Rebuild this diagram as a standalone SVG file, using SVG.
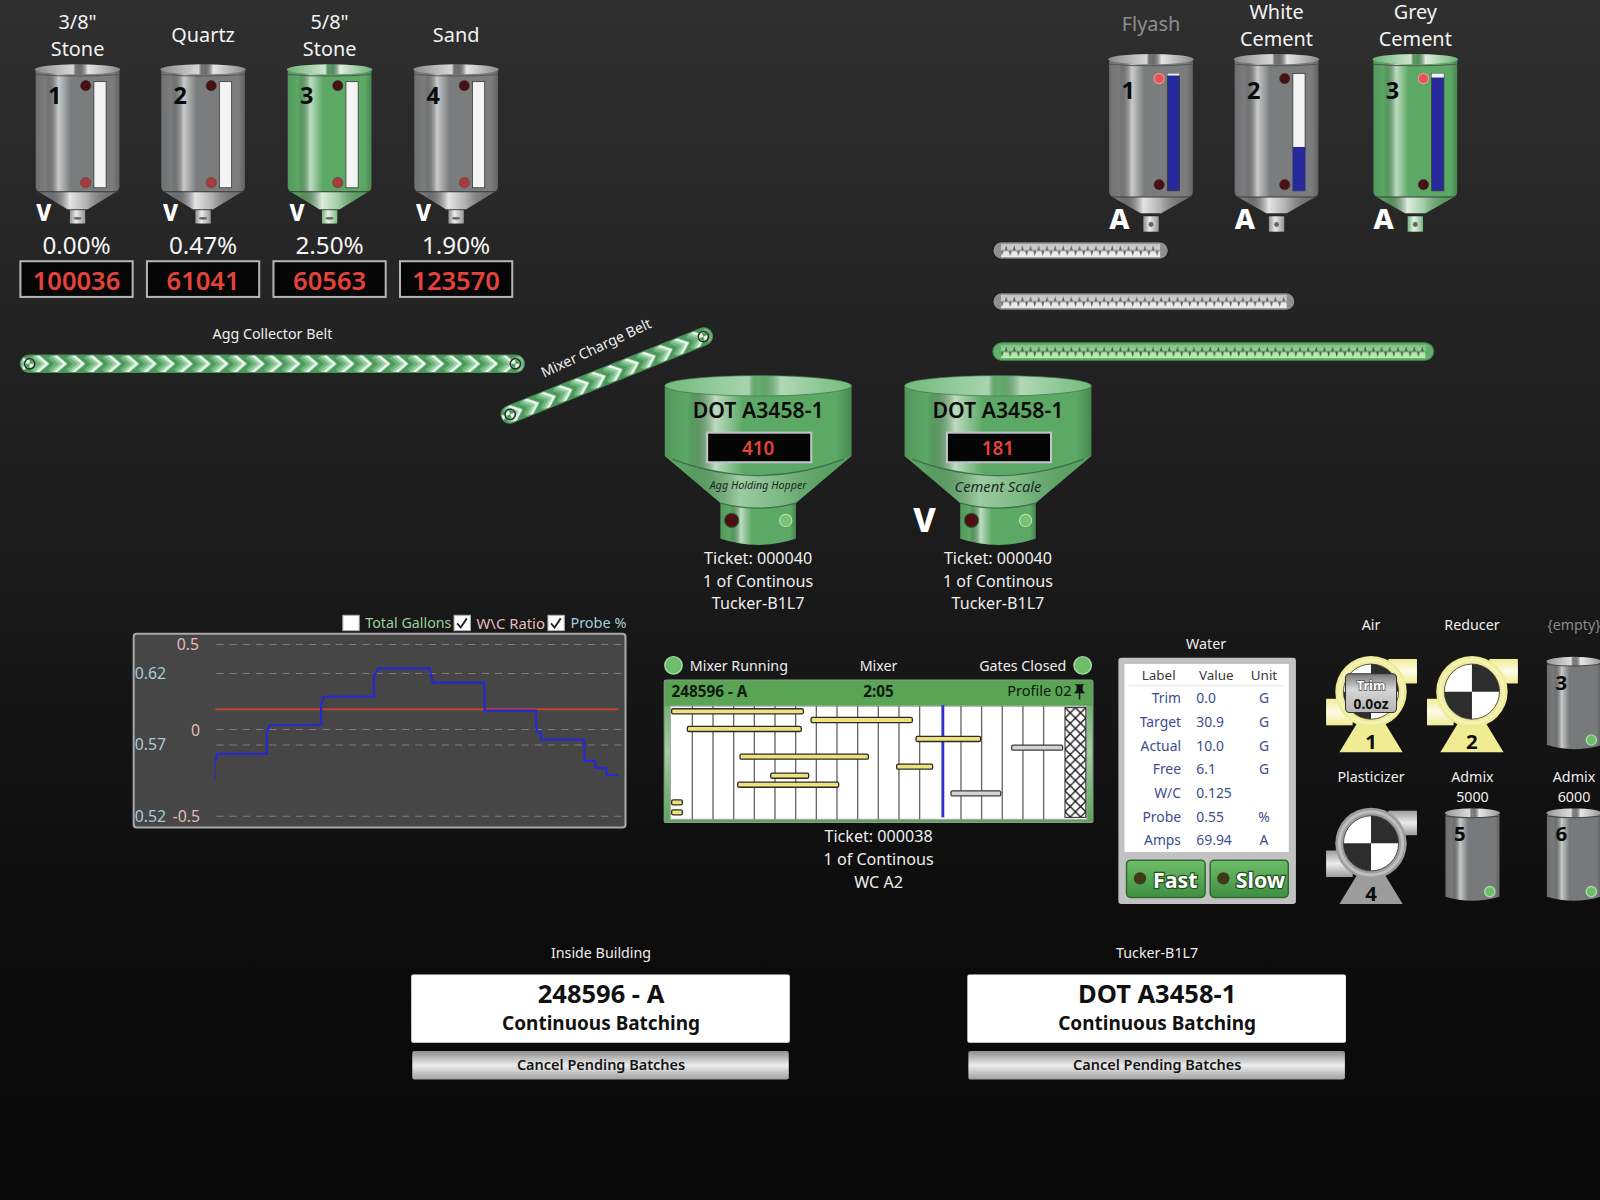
<svg xmlns="http://www.w3.org/2000/svg" width="1600" height="1200" viewBox="0 0 1600 1200">
<style>
text{font-family:"Noto Sans","Open Sans","DejaVu Sans",sans-serif;fill:#fff;dominant-baseline:central}
.m{text-anchor:middle}.e{text-anchor:end}
.lb{font-size:19.5px;fill:#f2f2f2}
.sm{font-size:14px;fill:#eee}
.tk{font-size:15.8px;fill:#eee}
.pct{font-size:23.8px;fill:#f5f5f5}
.disp{fill:#060606;stroke:#b4b4b4;stroke-width:2}
.red{fill:#e5433a;font-weight:600;font-size:25px}
.num{fill:#0a0a0a;font-weight:700;font-size:23px}
.big{font-weight:800;fill:#fff;font-size:22px}
.dk{fill:#4b1014;stroke:#2a2a2a;stroke-width:.5}
.rd{fill:#a53b3b;stroke:#7a4a4a;stroke-width:1}
.on{fill:#e65454;stroke:#f09a9a;stroke-width:1}
.gd{fill:#6dbd6a;stroke:#a7dba4;stroke-width:1.4}
.grid{stroke:#7e7e7e;stroke-width:1;stroke-dasharray:7 6;fill:none}
.pk{fill:#e2bcbc;font-size:15.5px}.bl{fill:#a8ccd6;font-size:15.5px}
.bar{stroke:#2b2b2b;stroke-width:1.3;fill:#efe27c}.bg{stroke:#3c3c3c;stroke-width:1.3;fill:#d4d4d4}
.thd{font-size:13.2px;fill:#3a3a3a}.tl{font-size:13.6px;fill:#3b4d8e}
.btn{font-weight:700;font-size:21px;stroke:#24521f;stroke-width:2.4;paint-order:stroke}
.cb{fill:#fff;stroke:#b0b0b0;stroke-width:1}
.pn{font-weight:700;font-size:20px;fill:#0d0d0d}
.can{font-weight:600;font-size:14.2px;fill:#151515}
.bt1{font-weight:700;font-size:25px;fill:#111}.bt2{font-weight:700;font-size:18.6px;fill:#111}
.hd{font-size:20.8px;font-weight:600;fill:#0b0b0b}
.rl{fill:#e6f4e8;stroke:#2c2c2c;stroke-width:1.5}
.rq{fill:#4f9c5e}
</style>
<defs>
<linearGradient id="bgG" x1="0" y1="0" x2="0" y2="1"><stop offset="0" stop-color="#2f2f2f"/><stop offset=".45" stop-color="#1b1b1b"/><stop offset=".78" stop-color="#0c0c0c"/><stop offset="1" stop-color="#090909"/></linearGradient>
<linearGradient id="sh"><stop offset="0" stop-color="#000" stop-opacity=".1"/><stop offset=".12" stop-color="#000" stop-opacity="0"/><stop offset=".27" stop-color="#fff" stop-opacity=".6"/><stop offset=".42" stop-color="#fff" stop-opacity="0"/><stop offset=".92" stop-color="#000" stop-opacity="0"/><stop offset="1" stop-color="#000" stop-opacity=".2"/></linearGradient>
<linearGradient id="cone"><stop offset=".1" stop-color="#000" stop-opacity=".05"/><stop offset=".4" stop-color="#fff" stop-opacity=".8"/><stop offset=".62" stop-color="#fff" stop-opacity=".4"/><stop offset="1" stop-color="#000" stop-opacity=".05"/></linearGradient>
<linearGradient id="noz"><stop offset="0" stop-color="#fff" stop-opacity=".15"/><stop offset=".4" stop-color="#fff" stop-opacity=".85"/><stop offset="1" stop-color="#fff" stop-opacity=".2"/></linearGradient>
<linearGradient id="rim"><stop offset="0" stop-color="#fff" stop-opacity=".1"/><stop offset=".45" stop-color="#fff" stop-opacity=".7"/><stop offset=".5" stop-color="#000" stop-opacity=".05"/><stop offset=".62" stop-color="#fff" stop-opacity=".8"/><stop offset="1" stop-color="#fff" stop-opacity=".1"/></linearGradient>
<linearGradient id="vs" x1="0" y1="0" x2="0" y2="1"><stop offset="0" stop-color="#fff" stop-opacity="0"/><stop offset=".5" stop-color="#fff" stop-opacity=".8"/><stop offset="1" stop-color="#fff" stop-opacity="0"/></linearGradient>
<linearGradient id="btnG" x1="0" y1="0" x2="0" y2="1"><stop offset="0" stop-color="#6dbd68"/><stop offset="1" stop-color="#3f8f42"/></linearGradient>
<linearGradient id="canG" x1="0" y1="0" x2="0" y2="1"><stop offset="0" stop-color="#8e8e8e"/><stop offset=".5" stop-color="#ececec"/><stop offset="1" stop-color="#a0a0a0"/></linearGradient>
<linearGradient id="trimG" x1="0" y1="0" x2="0" y2="1"><stop offset="0" stop-color="#777"/><stop offset=".4" stop-color="#d6d6d6"/><stop offset="1" stop-color="#b4b4b4"/></linearGradient>
<linearGradient id="panelG" x1="0" y1="0" x2="0" y2="1"><stop offset="0" stop-color="#5aa456"/><stop offset=".5" stop-color="#9fcfa0"/><stop offset="1" stop-color="#5aa456"/></linearGradient>
<linearGradient id="scrG" x1="0" y1="0" x2="0" y2="1"><stop offset="0" stop-color="#c4c4c4"/><stop offset=".5" stop-color="#cfcfcf"/><stop offset=".55" stop-color="#e6e6e6"/><stop offset="1" stop-color="#ececec"/></linearGradient>
<linearGradient id="scrH" x1="0" y1="0" x2="0" y2="1"><stop offset="0" stop-color="#7fc088"/><stop offset=".5" stop-color="#9dd19a"/><stop offset=".55" stop-color="#b8e4aa"/><stop offset="1" stop-color="#bfe8b0"/></linearGradient>
<pattern id="beltP" width="17.6" height="17" patternUnits="userSpaceOnUse" patternTransform="translate(0,-8.5)">
<rect width="17.6" height="17" fill="#4c995b"/>
<g fill="none">
<path d="M-3 0L7 8.500L-3 17M14.600 0L24.600 8.500L14.600 17" stroke="#6fb47c" stroke-width="8"/>
<path d="M-1 0L9 8.500L-1 17M16.600 0L26.600 8.500L16.600 17" stroke="#97d0a3" stroke-width="5"/>
<path d="M1 0L11 8.500L1 17M18.600 0L28.600 8.500L18.600 17" stroke="#eef9f0" stroke-width="2.400"/>
</g>
</pattern>
<pattern id="screwP" width="8" height="17" patternUnits="userSpaceOnUse" patternTransform="translate(0,-8.5)">
<path d="M.5 8.500L2 3.500L3.500 8.500ZM4.500 8.500L6 14L7.500 8.500Z" fill="#5c5c5c"/><rect y="8" width="8" height="1" fill="#8a8a8a"/>
</pattern>
<pattern id="screwQ" width="8" height="17" patternUnits="userSpaceOnUse" patternTransform="translate(0,-8.5)">
<path d="M.5 8.500L2 3.500L3.500 8.500ZM4.500 8.500L6 14L7.500 8.500Z" fill="#2f6a42"/><rect y="8" width="8" height="1" fill="#4d8a5c"/>
</pattern>
<pattern id="hatch" width="10.2" height="10.2" patternUnits="userSpaceOnUse" patternTransform="translate(1043.7,693.5)">
<rect width="10.2" height="10.2" fill="#fff"/>
<path d="M0 0L10.2 10.2M10.2 0L0 10.2" stroke="#111" stroke-width="1.3"/>
</pattern>
<g id="roller"><circle r="5" class="rl"/><path d="M0 -4.200A4.200 4.200 0 0 1 4.200 0H0ZM0 4.200A4.200 4.200 0 0 1 -4.200 0H0Z" class="rq"/></g>
<g id="siloA">
<path d="M-38 125L-10 142H10L38 125Z"/><path d="M-38 125L-10 142H10L38 125Z" fill="url(#cone)"/>
<rect x="-7.500" y="143" width="15" height="13"/><rect x="-7.500" y="143" width="15" height="13" fill="url(#noz)"/>
<ellipse cx="0" cy="151" rx="4" ry="1.400" fill="#666"/>
<path d="M-41 6H41V120Q41 124 37 125H-37Q-41 124 -41 120Z"/><path d="M-41 6H41V120Q41 124 37 125H-37Q-41 124 -41 120Z" fill="url(#sh)"/>
<path d="M-40 125H40" stroke="#3a3a3a" stroke-width="1"/>
<ellipse cx="0" cy="5" rx="42" ry="5"/><ellipse cx="0" cy="5" rx="42" ry="5" fill="url(#rim)"/>
<path d="M-41 10Q0 13 41 10" stroke="#555" stroke-width="1" fill="none"/>
</g>
<g id="siloC">
<path d="M-38 140L-10 156H10L38 140Z"/><path d="M-38 140L-10 156H10L38 140Z" fill="url(#cone)"/>
<rect x="-7.500" y="159" width="15" height="15"/><rect x="-7.500" y="159" width="15" height="15" fill="url(#noz)"/>
<circle cx="0" cy="167" r="2.400" fill="#666"/>
<path d="M-41 6H41V135Q41 139 37 140H-37Q-41 139 -41 135Z"/><path d="M-41 6H41V135Q41 139 37 140H-37Q-41 139 -41 135Z" fill="url(#sh)"/>
<path d="M-40 140H40" stroke="#3a3a3a" stroke-width="1"/>
<ellipse cx="0" cy="5" rx="42" ry="5"/><ellipse cx="0" cy="5" rx="42" ry="5" fill="url(#rim)"/>
<path d="M-41 10Q0 13 41 10" stroke="#555" stroke-width="1" fill="none"/>
</g>
<g id="scale">
<path d="M-37 113H37V150Q0 162 -37 150Z" fill="#5ca865"/><path d="M-37 113H37V150Q0 162 -37 150Z" fill="url(#sh)"/>
<path d="M-91.500 69L-37 115Q0 125 37 115L91.500 69Z" fill="#5ca865"/><path d="M-91.500 69L-37 115Q0 125 37 115L91.500 69Z" fill="url(#cone)" opacity=".5"/>
<path d="M-37 115Q0 125 37 115" fill="none" stroke="#3f6f47" stroke-width="1.300"/>
<path d="M-91.500 0V69Q0 105 91.500 69V0Z" fill="#5ca865"/><path d="M-91.500 0V69Q0 105 91.500 69V0Z" fill="url(#sh)"/>
<path d="M-84 72Q0 104 84 72" fill="none" stroke="#3f6f47" stroke-width="1.300"/>
<ellipse cx="0" cy="0" rx="91.500" ry="10" fill="#6ab673"/><ellipse cx="0" cy="0" rx="91.500" ry="10" fill="url(#rim)" opacity=".6" stroke="#3f6f47"/>
<circle cx="-26" cy="132" r="7" fill="#4b1014" stroke="#2f5f37"/><circle cx="27" cy="132" r="6" fill="#77c274" stroke="#b9e6b6"/>
</g>
<g id="pump">
<rect x="17" y="-32" width="28" height="24"/><rect x="17" y="-32" width="28" height="24" fill="url(#vs)"/>
<rect x="-44" y="7" width="26" height="26"/><rect x="-44" y="7" width="26" height="26" fill="url(#vs)"/>
<path d="M-12.500 29H12.500L31 59.500H-31Z"/>
<circle r="35"/><circle r="31" fill="none" stroke="#fff" stroke-opacity=".35" stroke-width="3"/>
<circle r="27" fill="#fff"/><path d="M0 -27A27 27 0 0 1 27 0H0ZM0 27A27 27 0 0 1 -27 0H0Z" fill="#2d2d2d"/>
<circle r="27" fill="none" stroke="#333" stroke-width=".8"/>
</g>
<g id="tank">
<path d="M-26.500 6H26.500V86Q0 94 -26.500 86Z" fill="#77797a"/><path d="M-26.500 6H26.500V86Q0 94 -26.500 86Z" fill="url(#sh)"/>
<ellipse cx="0" cy="4" rx="27" ry="4.500" fill="#8b8b8b"/><ellipse cx="0" cy="4" rx="27" ry="4.500" fill="url(#rim)"/>
<path d="M-26.500 7Q0 10 26.500 7" stroke="#4b4b4b" stroke-width="1" fill="none"/>
<circle cx="17" cy="81" r="5" class="gd"/>
</g>
</defs>
<rect width="1600" height="1200" fill="url(#bgG)"/>
<g transform="scale(1.020408)">
<g id="connectors">
<g id="agg-collector-belt" transform="translate(0,356.500)">
<rect x="20" y="-8.500" width="494" height="17" rx="8.500" fill="url(#beltP)" stroke="#4b8f58" stroke-width="1"/>
<use href="#roller" x="29"/><use href="#roller" x="505"/>
</g>
<g id="mixer-charge-belt" transform="translate(500,406) rotate(-21.900)">
<rect x="-9" y="-8.500" width="222" height="17" rx="8.500" fill="url(#beltP)" stroke="#4b8f58" stroke-width="1"/>
<use href="#roller"/><use href="#roller" x="204"/>
</g>
<g id="screw-1" transform="translate(0,245.500)">
<rect x="973" y="-8.500" width="172" height="17" rx="8.500" fill="#8f8f8f" stroke="#1a1a1a"/><rect x="981" y="-6.500" width="156" height="13" fill="url(#scrG)"/><rect x="981" y="-6.500" width="156" height="13" fill="url(#screwP)"/>
</g>
<g id="screw-2" transform="translate(0,295.500)">
<rect x="973" y="-8.500" width="296" height="17" rx="8.500" fill="#8f8f8f" stroke="#1a1a1a"/><rect x="981" y="-6.500" width="280" height="13" fill="url(#scrG)"/><rect x="981" y="-6.500" width="280" height="13" fill="url(#screwP)"/>
</g>
<g id="screw-3" transform="translate(0,344.500)">
<rect x="973" y="-8.500" width="432" height="17" rx="8.500" fill="#62b06c" stroke="#3f8a4c"/><rect x="981" y="-6.500" width="416" height="13" fill="url(#scrH)"/><rect x="981" y="-6.500" width="416" height="13" fill="url(#screwQ)"/>
</g>
</g>
<text class="sm m" x="267" y="326.500">Agg Collector Belt</text>
<text class="sm m" transform="translate(584,340.500) rotate(-25)">Mixer Charge Belt</text>

<g id="agg-1" transform="translate(76,0)">
<text class="lb m" y="21">3/8"</text><text class="lb m" y="48">Stone</text>
<g transform="translate(0,63)"><use href="#siloA" fill="#7b7c7d"/><rect x="16" y="17" width="12" height="104" fill="#f4f4f4" stroke="#3a3a3a" stroke-width=".8"/><circle cx="8" cy="21" r="5" class="dk"/><circle cx="8" cy="116" r="5" class="rd"/><text class="num" x="-29" y="30.500">1</text></g>
<text class="big m" x="-33" y="208">V</text><text class="pct m" x="-1" y="239.500">0.00%</text>
<rect class="disp" x="-56" y="256" width="110" height="35"/><text class="red m" x="-1" y="274">100036</text>
</g>
<g id="agg-2" transform="translate(199,0)">
<text class="lb m" y="34">Quartz</text>
<g transform="translate(0,63)"><use href="#siloA" fill="#7b7c7d"/><rect x="16" y="17" width="12" height="104" fill="#f4f4f4" stroke="#3a3a3a" stroke-width=".8"/><circle cx="8" cy="21" r="5" class="dk"/><circle cx="8" cy="116" r="5" class="rd"/><text class="num" x="-29" y="30.500">2</text></g>
<text class="big m" x="-32" y="208">V</text><text class="pct m" y="239.500">0.47%</text>
<rect class="disp" x="-55" y="256" width="110" height="35"/><text class="red m" y="274">61041</text>
</g>
<g id="agg-3" transform="translate(323,0)">
<text class="lb m" y="21">5/8"</text><text class="lb m" y="48">Stone</text>
<g transform="translate(0,63)"><use href="#siloA" fill="#5ca865"/><rect x="16" y="17" width="12" height="104" fill="#f4f4f4" stroke="#3a3a3a" stroke-width=".8"/><circle cx="8" cy="21" r="5" class="dk"/><circle cx="8" cy="116" r="5" class="rd"/><text class="num" x="-29" y="30.500">3</text></g>
<text class="big m" x="-32" y="208">V</text><text class="pct m" y="239.500">2.50%</text>
<rect class="disp" x="-55" y="256" width="110" height="35"/><text class="red m" y="274">60563</text>
</g>
<g id="agg-4" transform="translate(447,0)">
<text class="lb m" y="34">Sand</text>
<g transform="translate(0,63)"><use href="#siloA" fill="#7b7c7d"/><rect x="16" y="17" width="12" height="104" fill="#f4f4f4" stroke="#3a3a3a" stroke-width=".8"/><circle cx="8" cy="21" r="5" class="dk"/><circle cx="8" cy="116" r="5" class="rd"/><text class="num" x="-29" y="30.500">4</text></g>
<text class="big m" x="-32" y="208">V</text><text class="pct m" y="239.500">1.90%</text>
<rect class="disp" x="-55" y="256" width="110" height="35"/><text class="red m" y="274">123570</text>
</g>

<g id="cement-1" transform="translate(1128,0)">
<text class="lb m" y="23" style="fill:#8f8f8f">Flyash</text>
<g transform="translate(0,53)"><use href="#siloC" fill="#7b7c7d"/><rect x="16" y="19" width="12" height="115" fill="#26299c" stroke="#3a3a3a" stroke-width=".8"/><rect x="16" y="19" width="12" height="2" fill="#f4f4f4"/><circle cx="8" cy="24" r="5" class="on"/><circle cx="8" cy="128" r="5" class="dk"/><text class="num" x="-29" y="35.500">1</text></g>
<text class="big m" x="-31" y="213" style="font-size:28px">A</text>
</g>
<g id="cement-2" transform="translate(1251,0)">
<text class="lb m" y="11">White</text><text class="lb m" y="38">Cement</text>
<g transform="translate(0,53)"><use href="#siloC" fill="#7b7c7d"/><rect x="16" y="19" width="12" height="115" fill="#f4f4f4" stroke="#3a3a3a" stroke-width=".8"/><rect x="16" y="91" width="12" height="43" fill="#26299c"/><circle cx="8" cy="24" r="5" class="dk"/><circle cx="8" cy="128" r="5" class="dk"/><text class="num" x="-29" y="35.500">2</text></g>
<text class="big m" x="-31" y="213" style="font-size:28px">A</text>
</g>
<g id="cement-3" transform="translate(1387,0)">
<text class="lb m" y="11">Grey</text><text class="lb m" y="38">Cement</text>
<g transform="translate(0,53)"><use href="#siloC" fill="#5ca865"/><rect x="16" y="19" width="12" height="115" fill="#26299c" stroke="#3a3a3a" stroke-width=".8"/><rect x="16" y="19" width="12" height="4" fill="#f4f4f4"/><circle cx="8" cy="24" r="5" class="on"/><circle cx="8" cy="128" r="5" class="dk"/><text class="num" x="-29" y="35.500">3</text></g>
<text class="big m" x="-31" y="213" style="font-size:28px">A</text>
</g>

<g id="agg-holding-hopper" transform="translate(743,378)">
<use href="#scale"/>
<text class="hd m" y="23.500">DOT A3458-1</text>
<rect x="-50" y="46" width="102" height="29" fill="#050505" stroke="#c4c4cc" stroke-width="2"/><text class="red m" y="61" style="font-size:18.500px">410</text>
<text class="m" y="97" style="font-size:10.500px;font-style:italic;fill:#1c2a20">Agg Holding Hopper</text>
<text class="tk m" y="169">Ticket: 000040</text><text class="tk m" y="191">1 of Continous</text><text class="tk m" y="213">Tucker-B1L7</text>
</g>
<g id="cement-scale" transform="translate(978,378)">
<use href="#scale"/>
<text class="hd m" y="23.500">DOT A3458-1</text>
<rect x="-50" y="46" width="102" height="29" fill="#050505" stroke="#c4c4cc" stroke-width="2"/><text class="red m" y="61" style="font-size:18.500px">181</text>
<text class="m" y="98" style="font-size:14.400px;font-style:italic;fill:#1c2a20">Cement Scale</text>
<text class="big m" x="-72" y="131" style="font-size:33px">V</text>
<text class="tk m" y="169">Ticket: 000040</text><text class="tk m" y="191">1 of Continous</text><text class="tk m" y="213">Tucker-B1L7</text>
</g>

<g id="chart">
<rect class="cb" x="336" y="603" width="16" height="15"/><text x="358" y="610.500" style="font-size:14px;fill:#9ccf9c">Total Gallons</text>
<rect class="cb" x="445" y="603" width="16" height="15"/><path d="M448 611l3.500 4 6-9" fill="none" stroke="#222" stroke-width="1.800"/><text x="467" y="610.500" style="font-size:14.600px;fill:#e2bcbc">W\C Ratio</text>
<rect class="cb" x="537" y="603" width="16" height="15"/><path d="M540 611l3.500 4 6-9" fill="none" stroke="#222" stroke-width="1.800"/><text x="559" y="610.500" style="font-size:14.200px;fill:#a8ccd6">Probe %</text>
<rect x="131" y="621" width="482" height="190" rx="3" fill="#464646" stroke="#a8a8a8" stroke-width="2"/>
<path class="grid" d="M212 631.500H612M212 660H612M212 715H612M212 730H612M212 800H612"/>
<text class="pk e" x="195" y="631.500">0.5</text><text class="bl" x="132" y="659.500">0.62</text><text class="pk e" x="196" y="715.500">0</text><text class="bl" x="132" y="729.500">0.57</text><text class="bl" x="132" y="799.500">0.52</text><text class="pk e" x="196" y="799.500">-0.5</text>
<path d="M211 695H606" stroke="#c8402f" stroke-width="2" fill="none"/>
<path d="M211 745L212.700 738.800H261.500V717.700L264.600 710.500H314.600V691L317.500 682.700H366.500V663L371 655H421L424 669H474.600L475 696.500H525L526 717.700H530L530.600 724.800H572.600L573 745.600H583L583.600 752.500H594L594.700 759.500H606" stroke="#2828d0" stroke-width="2.200" fill="none"/>
<path d="M211 764V745" stroke="#2828d0" stroke-width="1" fill="none"/>
</g>

<g id="mixer">
<circle cx="660" cy="652" r="8.500" class="gd"/><circle cx="1061" cy="652" r="8.500" class="gd"/>
<text class="sm" x="676" y="652.500">Mixer Running</text><text class="sm m" x="861" y="652.500">Mixer</text><text class="sm e" x="1045" y="652.500">Gates Closed</text>
<rect x="651" y="666.500" width="420" height="139.500" rx="2" fill="url(#panelG)" stroke="#8a9a8a" stroke-width="1.200"/>
<rect x="651.500" y="667" width="419" height="25" fill="#5aa456"/>
<text x="658" y="677" style="font-size:15px;font-weight:700;fill:#0d1a0d">248596 - A</text><text class="m" x="861" y="677" style="font-size:15px;font-weight:700;fill:#0d1a0d">2:05</text><text class="e" x="1050" y="677" style="font-size:14.200px;fill:#0d1a0d">Profile 02</text>
<path d="M1053 670.500h10l-2 1.500v4.500l2.500 3h-4.800v6h-1.400v-6h-4.800l2.500-3v-4.500z" fill="#111"/>
<rect x="657" y="692" width="408" height="111" fill="#fff" stroke="#a8a8a8" stroke-width="1.200"/>
<path d="M678.500 692V803M698.750 692V803M719 692V803M739.250 692V803M759.500 692V803M779.750 692V803M800 692V803M820.250 692V803M840.500 692V803M860.750 692V803M881 692V803M901.250 692V803M941.750 692V803M962 692V803M982.250 692V803M1002.500 692V803M1022.750 692V803" stroke="#666" stroke-width="1.300" fill="none"/>
<path d="M924 691V801" stroke="#3030d0" stroke-width="2.800" fill="none"/>
<rect x="1043.700" y="693.500" width="20.400" height="107.500" fill="url(#hatch)" stroke="#222"/>
<rect class="bar" x="658.200" y="694.600" width="129.100" height="5" rx="1.500"/><rect class="bar" x="794.800" y="703.100" width="99.300" height="5" rx="1.500"/><rect class="bar" x="673.600" y="711.900" width="111.700" height="5" rx="1.500"/><rect class="bar" x="897.700" y="721.700" width="63.300" height="5" rx="1.500"/><rect class="bar" x="725.200" y="739" width="125.800" height="5" rx="1.500"/><rect class="bar" x="878.700" y="748.800" width="35.300" height="5" rx="1.500"/><rect class="bar" x="755.300" y="757.700" width="37.200" height="5" rx="1.500"/><rect class="bar" x="722.900" y="766.500" width="99" height="5" rx="1.500"/><rect class="bar" x="658.200" y="783.800" width="10.500" height="5" rx="1.500"/><rect class="bar" x="658.200" y="793.600" width="10.500" height="5" rx="1.500"/>
<rect class="bg" x="991.400" y="730.200" width="50" height="5" rx="1.500"/><rect class="bg" x="932" y="775" width="48.700" height="5" rx="1.500"/>
<text class="tk m" x="861" y="819">Ticket: 000038</text><text class="tk m" x="861" y="842">1 of Continous</text><text class="tk m" x="861" y="864">WC A2</text>
</g>

<g id="water">
<text class="sm m" x="1182" y="630.500">Water</text>
<rect x="1096" y="644.500" width="174" height="241.500" rx="3" fill="#c2c2c2"/>
<rect x="1102" y="650.700" width="161" height="184.300" fill="#fff"/>
<text class="thd m" x="1135.500" y="661.500">Label</text><text class="thd m" x="1192" y="661.500">Value</text><text class="thd m" x="1238.700" y="661.500">Unit</text>
<path d="M1106 672H1258" stroke="#e4e4e4" fill="none"/>
<text class="tl e" x="1157.400" y="683.700">Trim</text><text class="tl" x="1172.400" y="683.700">0.0</text><text class="tl m" x="1238.700" y="683.700">G</text>
<text class="tl e" x="1157.400" y="707.200">Target</text><text class="tl" x="1172.400" y="707.200">30.9</text><text class="tl m" x="1238.700" y="707.200">G</text>
<text class="tl e" x="1157.400" y="730.700">Actual</text><text class="tl" x="1172.400" y="730.700">10.0</text><text class="tl m" x="1238.700" y="730.700">G</text>
<text class="tl e" x="1157.400" y="753">Free</text><text class="tl" x="1172.400" y="753">6.1</text><text class="tl m" x="1238.700" y="753">G</text>
<text class="tl e" x="1157.400" y="776.500">W/C</text><text class="tl" x="1172.400" y="776.500">0.125</text>
<text class="tl e" x="1157.400" y="800">Probe</text><text class="tl" x="1172.400" y="800">0.55</text><text class="tl m" x="1238.700" y="800">%</text>
<text class="tl e" x="1157.400" y="822.300">Amps</text><text class="tl" x="1172.400" y="822.300">69.94</text><text class="tl m" x="1238.700" y="822.300">A</text>
<rect x="1104" y="843" width="77" height="36.500" rx="4" fill="url(#btnG)" stroke="#2f6a32" stroke-width="1.500"/><circle cx="1117.200" cy="860.800" r="6" fill="#3e3a18"/><text class="btn" x="1130" y="861.500">Fast</text>
<rect x="1186" y="843" width="76.500" height="36.500" rx="4" fill="url(#btnG)" stroke="#2f6a32" stroke-width="1.500"/><circle cx="1198.900" cy="860.800" r="6" fill="#3e3a18"/><text class="btn" x="1211" y="861.500">Slow</text>
</g>

<g id="pump-1" transform="translate(1343.600,677.800)">
<text class="sm m" y="-66">Air</text>
<use href="#pump" fill="#f0ec94"/>
<rect x="-25" y="-17.500" width="50" height="38" rx="4" fill="url(#trimG)" stroke="#333" stroke-width="1"/>
<text class="m" y="-6.500" style="font-size:12.500px;font-weight:700;stroke:#555;stroke-width:1.500;paint-order:stroke">Trim</text>
<text class="m" y="11.500" style="font-size:13.500px;font-weight:700;fill:#111">0.0oz</text>
<text class="pn m" y="48.500">1</text>
</g>
<g id="pump-2" transform="translate(1442.500,677.800)">
<text class="sm m" y="-66">Reducer</text>
<use href="#pump" fill="#f0ec94"/><text class="pn m" y="48.500">2</text>
</g>
<g id="pump-4" transform="translate(1343.600,826.500)">
<text class="sm m" y="-65.500">Plasticizer</text>
<use href="#pump" fill="#9c9c9c"/><text class="pn m" y="48.500">4</text>
</g>
<g id="tank-3" transform="translate(1542.500,644.200)">
<text class="sm m" y="-32" style="fill:#8a8a8a">{empty}</text>
<use href="#tank"/><text class="num" x="-18" y="24.500" style="font-size:20px">3</text>
</g>
<g id="tank-5" transform="translate(1443,792.800)">
<text class="sm m" y="-32">Admix</text><text class="sm m" y="-12.500">5000</text>
<use href="#tank"/><text class="num" x="-18" y="24" style="font-size:20px">5</text>
</g>
<g id="tank-6" transform="translate(1542.500,792.800)">
<text class="sm m" y="-32">Admix</text><text class="sm m" y="-12.500">6000</text>
<use href="#tank"/><text class="num" x="-18" y="24" style="font-size:20px">6</text>
</g>

<g id="batch-1">
<text class="sm m" x="589" y="933.500">Inside Building</text>
<rect x="403" y="955" width="371" height="67" rx="2" fill="#fff"/>
<text class="bt1 m" x="589" y="973.500">248596 - A</text><text class="bt2 m" x="589" y="1002.500">Continuous Batching</text>
<rect x="404" y="1030" width="369" height="28" rx="2" fill="url(#canG)"/><text class="can m" x="589" y="1043.500">Cancel Pending Batches</text>
</g>
<g id="batch-2">
<text class="sm m" x="1134" y="933.500">Tucker-B1L7</text>
<rect x="948" y="955" width="371" height="67" rx="2" fill="#fff"/>
<text class="bt1 m" x="1134" y="973.500">DOT A3458-1</text><text class="bt2 m" x="1134" y="1002.500">Continuous Batching</text>
<rect x="949" y="1030" width="369" height="28" rx="2" fill="url(#canG)"/><text class="can m" x="1134" y="1043.500">Cancel Pending Batches</text>
</g>
</g>
</svg>
